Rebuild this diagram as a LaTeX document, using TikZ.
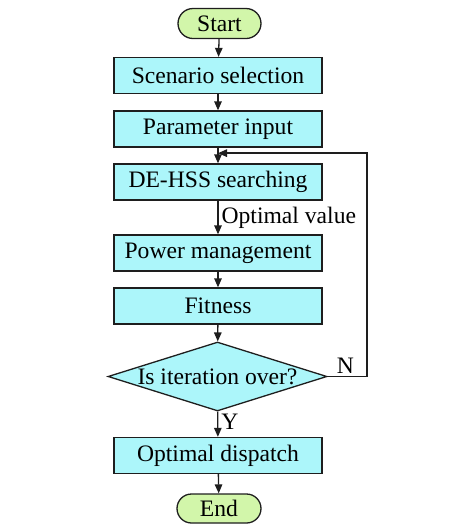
\documentclass[tikz,border=0pt]{standalone}
\usepackage{fontspec}
\setmainfont{Liberation Serif}
\usetikzlibrary{shapes.geometric,shapes.misc,arrows.meta,calc}
\definecolor{boxfill}{RGB}{172,246,250}
\definecolor{termfill}{RGB}{210,246,170}
\definecolor{linec}{RGB}{30,30,30}
\tikzset{
  procbox/.style={draw=linec, line width=1.3pt, fill=boxfill, rectangle, minimum width=208pt, minimum height=36pt, inner sep=0pt},
  termbox/.style={draw=linec, line width=1.3pt, fill=termfill, rounded rectangle, minimum width=83pt, minimum height=30pt, inner sep=0pt},
  decbox/.style={draw=linec, line width=1.3pt, fill=boxfill, diamond, minimum width=219pt, minimum height=69pt, inner sep=0pt},
  flowarrow/.style={draw=linec, line width=1.3pt, -{Triangle[length=9pt,width=7.5pt]}},
  every node/.style={font=\fontsize{23.6}{28}\selectfont, text=black},
  lbl/.style={inner sep=3pt}
}
\begin{document}
\begin{tikzpicture}[x=1pt,y=-1pt]
\useasboundingbox (0,0) rectangle (474,531);
\node[termbox] (start) at (219.5,23.5) {Start};
\node[procbox] (scen) at (218,75.5) {Scenario selection};
\node[procbox] (param) at (218,129) {Parameter input};
\node[procbox] (de) at (218,182) {DE-HSS searching};
\node[procbox] (pm) at (218,253) {Power management};
\node[procbox] (fit) at (218,306) {Fitness};
\node[decbox] (dec) at (217.5,376.5) {};
\node (dectext) at (217.5,377) {Is iteration over?};
\node[procbox] (disp) at (218,455.5) {Optimal dispatch};
\node[termbox, minimum height=29pt, minimum width=84pt] (end) at (219,508.5) {End};
\coordinate (corner) at (367,376.5);
\coordinate (fb) at ($(param.south)!0.35!(de.north)$);
\draw[flowarrow] (start) -- (scen);
\draw[flowarrow] (scen) -- (param);
\draw[flowarrow] (param) -- (de);
\draw[flowarrow] (de) -- node[right,lbl,midway]{Optimal value} (pm);
\draw[flowarrow] (pm) -- (fit);
\draw[flowarrow] (fit) -- (dec);
\draw[flowarrow] (dec) -- node[right,lbl,midway,yshift=2pt]{Y} (disp);
\draw[flowarrow] (disp) -- (end);
\draw[flowarrow] (dec.east) -- node[above,pos=0.45,inner sep=2pt]{N} (corner) |- (fb);
\end{tikzpicture}
\end{document}
